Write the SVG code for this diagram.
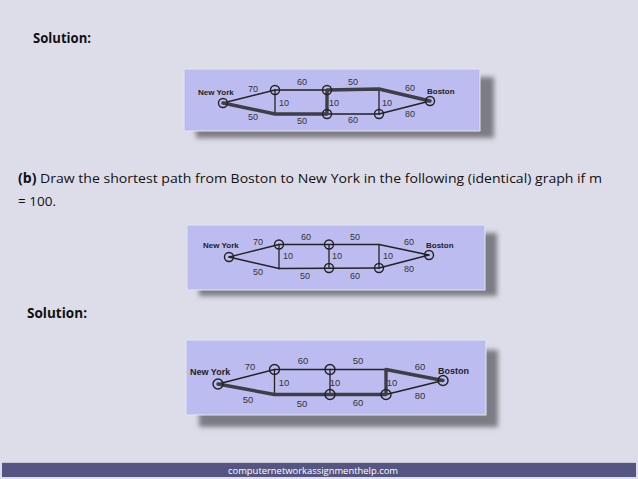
<svg xmlns="http://www.w3.org/2000/svg" width="638" height="479" viewBox="0 0 638 479">
<defs>
<filter id="blur" x="-10%" y="-30%" width="120%" height="160%"><feGaussianBlur stdDeviation="2.4"/></filter>
<style>
.bg{fill:#DDDDE9}
.box{fill:#BCBCF0;stroke:#E4E4F0;stroke-width:1}
.sh{fill:#7C7C84;filter:url(#blur)}
.thin{stroke:#222;stroke-width:1.3;fill:none;stroke-linecap:round}
.thick{stroke:#3E3E46;stroke-width:3.4;fill:none;stroke-linecap:round;stroke-linejoin:round}
.nd{fill:none;stroke:#222;stroke-width:1.4}
.city{font-family:"Liberation Sans",Arial,sans-serif;font-weight:bold;font-size:8px;fill:#222}
.w{font-family:"Liberation Sans",Arial,sans-serif;font-size:9px;fill:#333;text-anchor:middle}
.big .city{font-size:9px}
.big .w{font-size:9.5px}
.h{font-family:"Open Sans","Liberation Sans",sans-serif;font-weight:bold;font-size:13.5px;fill:#111}
.p{font-family:"Open Sans","Liberation Sans",sans-serif;font-size:13.5px;fill:#111}
.ft{font-family:"Open Sans","Liberation Sans",sans-serif;font-size:9px;fill:#fff;text-anchor:middle}
</style>
</defs>
<rect class="bg" x="0" y="0" width="638" height="479"/>

<text class="h" x="33" y="43" textLength="58" lengthAdjust="spacingAndGlyphs">Solution:</text>
<text class="p" x="18" y="183" textLength="584" lengthAdjust="spacingAndGlyphs"><tspan font-weight="bold">(b)</tspan>  Draw the shortest path from Boston to New York in the following (identical) graph if m</text>
<text class="p" x="18" y="206">= 100.</text>
<text class="h" x="27" y="318" textLength="60" lengthAdjust="spacingAndGlyphs">Solution:</text>

<!-- Graph 1 -->
<g id="graph1">
<rect class="sh" x="196" y="77" width="298" height="61"/>
<rect class="box" x="184" y="69" width="296" height="62"/>
<g id="connectors1">
<line class="thin" x1="223" y1="103" x2="275" y2="90"/>
<line class="thin" x1="275" y1="90" x2="327" y2="90"/>
<line class="thin" x1="275" y1="90" x2="275" y2="114"/>
<line class="thin" x1="327" y1="114" x2="379" y2="114"/>
<line class="thin" x1="379" y1="89" x2="379" y2="114"/>
<line class="thin" x1="379" y1="114" x2="430" y2="101"/>
<polyline class="thick" points="223,103 275,114 327,114 327,90 379,89 430,101"/>
<text class="w" x="253" y="92">70</text>
<text class="w" x="302" y="85">60</text>
<text class="w" x="353" y="85">50</text>
<text class="w" x="410" y="91">60</text>
<text class="w" x="284" y="106">10</text>
<text class="w" x="334" y="106">10</text>
<text class="w" x="387" y="106">10</text>
<text class="w" x="253" y="120">50</text>
<text class="w" x="302" y="124">50</text>
<text class="w" x="353" y="123">60</text>
<text class="w" x="410" y="117">80</text>
</g>
<g id="g1-newyork"><circle class="nd" cx="223" cy="103" r="4.5"/><text class="city" x="198" y="95">New York</text></g>
<g id="g1-a"><circle class="nd" cx="275" cy="90" r="4.5"/></g>
<g id="g1-c"><circle class="nd" cx="327" cy="90" r="4.5"/></g>
<g id="g1-d"><circle class="nd" cx="327" cy="114" r="4.5"/></g>
<g id="g1-f"><circle class="nd" cx="379" cy="114" r="4.5"/></g>
<g id="g1-boston"><circle class="nd" cx="430" cy="101" r="4.5"/><text class="city" x="427" y="94">Boston</text></g>
</g>

<!-- Graph 2 -->
<g id="graph2">
<rect class="sh" x="199" y="233" width="298" height="63"/>
<rect class="box" x="187" y="225" width="298" height="65"/>
<g id="connectors2">
<line class="thin" x1="229" y1="257" x2="279" y2="244.5"/>
<line class="thin" x1="229" y1="257" x2="279" y2="268.5"/>
<line class="thin" x1="279" y1="244.5" x2="379" y2="244.5"/>
<line class="thin" x1="279" y1="268.5" x2="379" y2="268"/>
<line class="thin" x1="279" y1="244.5" x2="279" y2="268.5"/>
<line class="thin" x1="329" y1="244.5" x2="329" y2="268"/>
<line class="thin" x1="379" y1="244.5" x2="379" y2="268"/>
<line class="thin" x1="379" y1="244.5" x2="429" y2="255"/>
<line class="thin" x1="379" y1="268" x2="429" y2="255"/>
<text class="w" x="258" y="245">70</text>
<text class="w" x="306" y="240">60</text>
<text class="w" x="355" y="240">50</text>
<text class="w" x="409" y="245">60</text>
<text class="w" x="288" y="259">10</text>
<text class="w" x="337" y="259">10</text>
<text class="w" x="388" y="259">10</text>
<text class="w" x="258" y="275">50</text>
<text class="w" x="305" y="279">50</text>
<text class="w" x="355" y="279">60</text>
<text class="w" x="409" y="272">80</text>
</g>
<g id="g2-newyork"><circle class="nd" cx="229" cy="257" r="4.5"/><text class="city" x="203" y="248">New York</text></g>
<g id="g2-a"><circle class="nd" cx="279" cy="244.5" r="4.5"/></g>
<g id="g2-c"><circle class="nd" cx="329" cy="244.5" r="4.5"/></g>
<g id="g2-d"><circle class="nd" cx="329" cy="268" r="4.5"/></g>
<g id="g2-f"><circle class="nd" cx="379" cy="268" r="4.5"/></g>
<g id="g2-boston"><circle class="nd" cx="429" cy="255" r="4.5"/><text class="city" x="426" y="248">Boston</text></g>
</g>

<!-- Graph 3 -->
<g id="graph3" class="big">
<rect class="sh" x="199" y="350" width="299" height="77"/>
<rect class="box" x="186" y="340" width="300" height="75"/>
<g id="connectors3">
<line class="thin" x1="218" y1="384" x2="274.5" y2="369.5"/>
<line class="thin" x1="274.5" y1="369.5" x2="386" y2="369.5"/>
<line class="thin" x1="274.5" y1="369.5" x2="274.5" y2="394.5"/>
<line class="thin" x1="330" y1="369.5" x2="330" y2="394.5"/>
<line class="thin" x1="386" y1="394.5" x2="443" y2="380.5"/>
<polyline class="thick" points="218,384 274.5,394.5 386,394.5 386,369.5 443,380.5"/>
<text class="w" x="250" y="370">70</text>
<text class="w" x="303" y="364">60</text>
<text class="w" x="358" y="364">50</text>
<text class="w" x="420" y="370">60</text>
<text class="w" x="284" y="386">10</text>
<text class="w" x="335" y="386">10</text>
<text class="w" x="392" y="386">10</text>
<text class="w" x="248" y="403">50</text>
<text class="w" x="302" y="407">50</text>
<text class="w" x="358" y="406">60</text>
<text class="w" x="420" y="399">80</text>
</g>
<g id="g3-newyork"><circle class="nd" cx="218" cy="384" r="5"/><text class="city" x="190" y="375">New York</text></g>
<g id="g3-a"><circle class="nd" cx="274.5" cy="369.5" r="5"/></g>
<g id="g3-c"><circle class="nd" cx="330" cy="369.5" r="5"/></g>
<g id="g3-d"><circle class="nd" cx="330" cy="394.5" r="5"/></g>
<g id="g3-f"><circle class="nd" cx="386" cy="394.5" r="5"/></g>
<g id="g3-boston"><circle class="nd" cx="443" cy="380.5" r="5"/><text class="city" x="438" y="374">Boston</text></g>
</g>

<!-- footer -->
<rect x="2" y="463" width="634" height="14" fill="#555582"/>
<line x1="2" y1="462.5" x2="636" y2="462.5" stroke="#C8C8D8" stroke-width="1"/>
<text class="ft" x="313" y="473.5" textLength="170" lengthAdjust="spacingAndGlyphs">computernetworkassignmenthelp.com</text>
</svg>
